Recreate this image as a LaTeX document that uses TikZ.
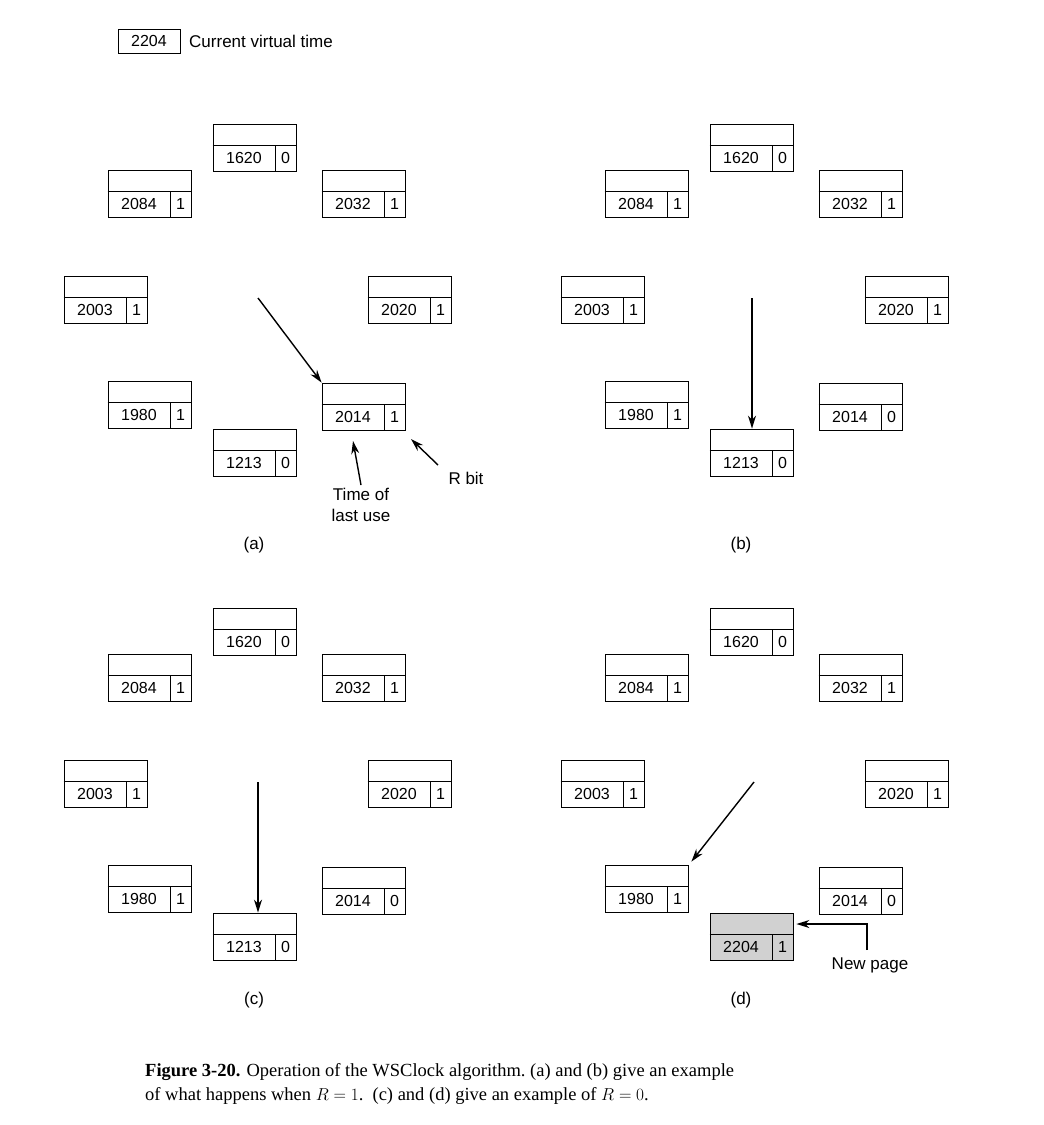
\documentclass[tikz,border=0pt]{standalone}
\usepackage{fontspec}
\setmainfont{Liberation Sans}
\newfontfamily\capfont{Liberation Serif}
\usetikzlibrary{arrows.meta}
\newcommand\pg[6]{% name, x, y (top-left), num, bit, fill
  \node[pbox,fill=#6] (#1) at (#2+41.5,#3+23.5) {};
  \draw[thick] (#1.west|-0,#3+21) -- (#1.east|-0,#3+21);
  \draw[thick] (#2+62,#3+21) -- (#2+62,#3+47);
  \node[txt] (#1n) at (#2+31,#3+34) {#4};
  \node[txt] (#1b) at (#2+72.5,#3+34) {#5};
}
\begin{document}
\begin{tikzpicture}[x=1pt,y=-1pt,
  pbox/.style={draw,thick,minimum width=83pt,minimum height=47pt,inner sep=0pt},
  txt/.style={font=\fontsize{16}{18}\selectfont,inner sep=0pt},
  lbl/.style={font=\fontsize{17}{21}\selectfont,inner sep=0pt,align=center},
  arr/.style={-{Stealth[length=13pt,width=8pt]},line width=1.4pt}]
\useasboundingbox (0,0) rectangle (1044,1125);
% header
\node[draw,thick,minimum width=62pt,minimum height=24pt,inner sep=0pt,txt] (cvt) at (149,41) {2204};
\node[lbl,anchor=west] (cvtl) at (189,41) {Current virtual time};
\foreach \p/\dx/\dy in {a/0/0,b/497/484,c/0/484,d/497/0}{}
% panel a
\pg{a1}{213}{124}{1620}{0}{white}
\pg{a2}{108}{170}{2084}{1}{white}
\pg{a3}{322}{170}{2032}{1}{white}
\pg{a4}{64}{276}{2003}{1}{white}
\pg{a5}{368}{276}{2020}{1}{white}
\pg{a6}{108}{381}{1980}{1}{white}
\pg{a7}{322}{383}{2014}{1}{white}
\pg{a8}{213}{429}{1213}{0}{white}
\coordinate (ha) at (258,298);
\draw[arr] (ha) -- (a7.north west);
\node[lbl] (tol) at (361,505) {Time of\\last use};
\draw[arr] (tol.north) ++(0,-3) -- (a7n.south |- 0,441);
\node[lbl] (rbit) at (466,478) {R bit};
\coordinate (rb0) at (438,465);
\draw[arr] (rb0) -- (411,439);
\node[lbl] (la) at (254,545) {(a)};
% panel b
\pg{b1}{710}{124}{1620}{0}{white}
\pg{b2}{605}{170}{2084}{1}{white}
\pg{b3}{819}{170}{2032}{1}{white}
\pg{b4}{561}{276}{2003}{1}{white}
\pg{b5}{865}{276}{2020}{1}{white}
\pg{b6}{605}{381}{1980}{1}{white}
\pg{b7}{819}{383}{2014}{0}{white}
\pg{b8}{710}{429}{1213}{0}{white}
\coordinate (hb) at (752,298);
\draw[arr] (hb) -- (b8.north -| hb);
\node[lbl] (lb) at (741,545) {(b)};
% panel c
\pg{c1}{213}{608}{1620}{0}{white}
\pg{c2}{108}{654}{2084}{1}{white}
\pg{c3}{322}{654}{2032}{1}{white}
\pg{c4}{64}{760}{2003}{1}{white}
\pg{c5}{368}{760}{2020}{1}{white}
\pg{c6}{108}{865}{1980}{1}{white}
\pg{c7}{322}{867}{2014}{0}{white}
\pg{c8}{213}{913}{1213}{0}{white}
\coordinate (hc) at (258,782);
\draw[arr] (hc) -- (c8.north -| hc);
\node[lbl] (lc) at (254,1000) {(c)};
% panel d
\pg{d1}{710}{608}{1620}{0}{white}
\pg{d2}{605}{654}{2084}{1}{white}
\pg{d3}{819}{654}{2032}{1}{white}
\pg{d4}{561}{760}{2003}{1}{white}
\pg{d5}{865}{760}{2020}{1}{white}
\pg{d6}{605}{865}{1980}{1}{white}
\pg{d7}{819}{867}{2014}{0}{white}
\pg{d8}{710}{913}{2204}{1}{black!18}
\coordinate (hd) at (754,782);
\draw[arr] (hd) -- ([shift={(3,-3)}]d6.north east);
\node[lbl] (np) at (870,965) {New page};
\coordinate (npc) at (867,924);
\draw[arr] (867,950) -- (npc) -- ([xshift=3pt]d8.east |- npc);
\node[lbl] (ld) at (741,1000) {(d)};
% caption
\node[anchor=west,inner sep=0pt,font=\capfont\fontsize{18.5}{24}\selectfont,align=left] (cap) at (145,1084)
 {\textbf{Figure 3-20.} Operation of the WSClock algorithm.\ (a) and (b) give an example\\
  of what happens when $R=1$.\ \ (c) and (d) give an example of $R=0$.};
\end{tikzpicture}
\end{document}
